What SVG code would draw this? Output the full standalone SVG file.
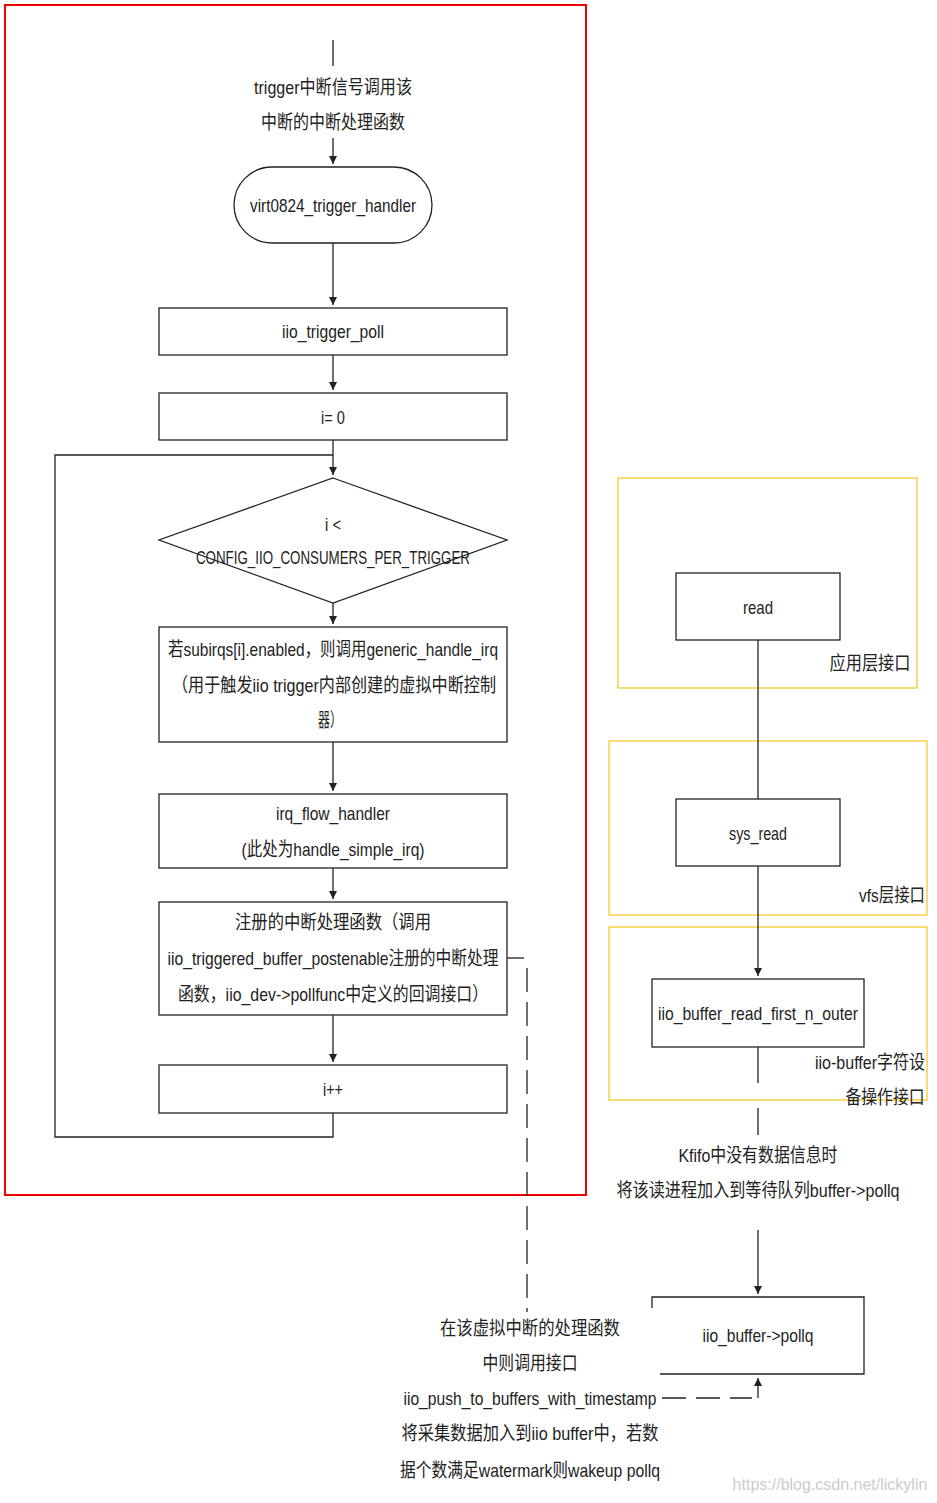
<svg xmlns="http://www.w3.org/2000/svg" width="937" height="1503" viewBox="0 0 937 1503">
<style>
text{font-family:"Liberation Sans","Noto Sans CJK SC",sans-serif;font-size:19px;fill:#222;text-anchor:middle}
.b{fill:#fff;stroke:#222;stroke-width:1.3}
.l{fill:none;stroke:#222;stroke-width:1.3}
.d{fill:none;stroke:#222;stroke-width:1.3;stroke-dasharray:24 10}
</style>
<defs><marker id="a" markerWidth="10" markerHeight="10" refX="8" refY="4" orient="auto" markerUnits="userSpaceOnUse"><path d="M0,0L8,4L0,8z" fill="#222"/></marker></defs>
<rect x="5" y="5" width="581" height="1190" fill="none" stroke="#e00" stroke-width="2"/>
<rect x="618" y="478" width="299" height="210" fill="none" stroke="#f5c518" stroke-width="1.2"/>
<rect x="609" y="741" width="318" height="174" fill="none" stroke="#f5c518" stroke-width="1.2"/>
<rect x="609" y="927" width="318" height="173" fill="none" stroke="#f5c518" stroke-width="1.2"/>
<g id="connectors">
<path class="l" d="M333,40V66M333,138V164" marker-end="url(#a)"/>
<path class="l" d="M333,243V305" marker-end="url(#a)"/>
<path class="l" d="M333,355V390" marker-end="url(#a)"/>
<path class="l" d="M333,440V475" marker-end="url(#a)"/>
<path class="l" d="M333,603V624" marker-end="url(#a)"/>
<path class="l" d="M333,742V791" marker-end="url(#a)"/>
<path class="l" d="M333,868V899" marker-end="url(#a)"/>
<path class="l" d="M333,1015V1062" marker-end="url(#a)"/>
<path class="l" d="M333,1113V1137H55V455H333"/>
<path class="l" d="M507,958H524"/>
<path class="d" d="M527,968V1312"/>
<path class="d" d="M662,1398H752"/>
<path class="l" d="M758,1398V1378" marker-end="url(#a)"/>
<path class="l" d="M758,640V976" marker-end="url(#a)"/>
<path class="l" d="M758,1047V1083M758,1108V1135"/>
<path class="l" d="M758,1230V1294" marker-end="url(#a)"/>
</g>
<text x="333" y="94" textLength="158" lengthAdjust="spacingAndGlyphs">trigger中断信号调用该</text>
<text x="333" y="129" textLength="144" lengthAdjust="spacingAndGlyphs">中断的中断处理函数</text>
<g id="n1"><rect class="b" x="234" y="167" width="198" height="76" rx="38"/><text x="333" y="212" textLength="166" lengthAdjust="spacingAndGlyphs">virt0824_trigger_handler</text></g>
<g id="n2"><rect class="b" x="159" y="308" width="348" height="47"/><text x="333" y="338" textLength="102" lengthAdjust="spacingAndGlyphs">iio_trigger_poll</text></g>
<g id="n3"><rect class="b" x="159" y="393" width="348" height="47"/><text x="333" y="424" textLength="24" lengthAdjust="spacingAndGlyphs">i= 0</text></g>
<g id="n4"><path class="b" d="M333,478L507,540L333,603L159,540z"/><text x="333" y="531" textLength="16" lengthAdjust="spacingAndGlyphs">i &lt;</text><text x="333" y="564" textLength="274" lengthAdjust="spacingAndGlyphs">CONFIG_IIO_CONSUMERS_PER_TRIGGER</text></g>
<g id="n5"><rect class="b" x="159" y="627" width="348" height="115"/><text x="333" y="656" textLength="330" lengthAdjust="spacingAndGlyphs">若subirqs[i].enabled，则调用generic_handle_irq</text><text x="334" y="692" textLength="324" lengthAdjust="spacingAndGlyphs">（用于触发iio trigger内部创建的虚拟中断控制</text><text x="330" y="727" textLength="24" lengthAdjust="spacingAndGlyphs">器）</text></g>
<g id="n6"><rect class="b" x="159" y="794" width="348" height="74"/><text x="333" y="820" textLength="114" lengthAdjust="spacingAndGlyphs">irq_flow_handler</text><text x="333" y="856" textLength="183" lengthAdjust="spacingAndGlyphs">(此处为handle_simple_irq)</text></g>
<g id="n7"><rect class="b" x="159" y="902" width="348" height="113"/><text x="333" y="929" textLength="196" lengthAdjust="spacingAndGlyphs">注册的中断处理函数（调用</text><text x="333" y="965" textLength="331" lengthAdjust="spacingAndGlyphs">iio_triggered_buffer_postenable注册的中断处理</text><text x="333" y="1001" textLength="310" lengthAdjust="spacingAndGlyphs">函数，iio_dev-&gt;pollfunc中定义的回调接口）</text></g>
<g id="n8"><rect class="b" x="159" y="1065" width="348" height="48"/><text x="333" y="1096" textLength="20" lengthAdjust="spacingAndGlyphs">i++</text></g>
<g id="n9"><rect class="b" x="676" y="573" width="164" height="67"/><text x="758" y="614" textLength="30" lengthAdjust="spacingAndGlyphs">read</text></g>
<text x="870" y="670" textLength="81" lengthAdjust="spacingAndGlyphs">应用层接口</text>
<g id="n10"><rect class="b" x="676" y="799" width="164" height="67"/><text x="758" y="840" textLength="58" lengthAdjust="spacingAndGlyphs">sys_read</text></g>
<text x="892" y="902" textLength="66" lengthAdjust="spacingAndGlyphs">vfs层接口</text>
<g id="n11"><rect class="b" x="652" y="979" width="212" height="68"/><text x="758" y="1020" textLength="200" lengthAdjust="spacingAndGlyphs">iio_buffer_read_first_n_outer</text></g>
<text x="870" y="1069" textLength="110" lengthAdjust="spacingAndGlyphs">iio-buffer字符设</text>
<text x="885" y="1104" textLength="79" lengthAdjust="spacingAndGlyphs">备操作接口</text>
<text x="758" y="1162" textLength="159" lengthAdjust="spacingAndGlyphs">Kfifo中没有数据信息时</text>
<text x="758" y="1197" textLength="283" lengthAdjust="spacingAndGlyphs">将该读进程加入到等待队列buffer-&gt;pollq</text>
<g id="n12"><path class="l" d="M652,1308V1297H864V1374H660"/><text x="758" y="1342" textLength="111" lengthAdjust="spacingAndGlyphs">iio_buffer-&gt;pollq</text></g>
<text x="530" y="1335" textLength="180" lengthAdjust="spacingAndGlyphs">在该虚拟中断的处理函数</text>
<text x="530" y="1370" textLength="95" lengthAdjust="spacingAndGlyphs">中则调用接口</text>
<text x="530" y="1405" textLength="253" lengthAdjust="spacingAndGlyphs">iio_push_to_buffers_with_timestamp</text>
<text x="530" y="1440" textLength="257" lengthAdjust="spacingAndGlyphs">将采集数据加入到iio buffer中，若数</text>
<text x="530" y="1477" textLength="260" lengthAdjust="spacingAndGlyphs">据个数满足watermark则wakeup pollq</text>
<text x="830" y="1490" style="fill:#ccc;font-size:16px">https://blog.csdn.net/lickylin</text>
</svg>
